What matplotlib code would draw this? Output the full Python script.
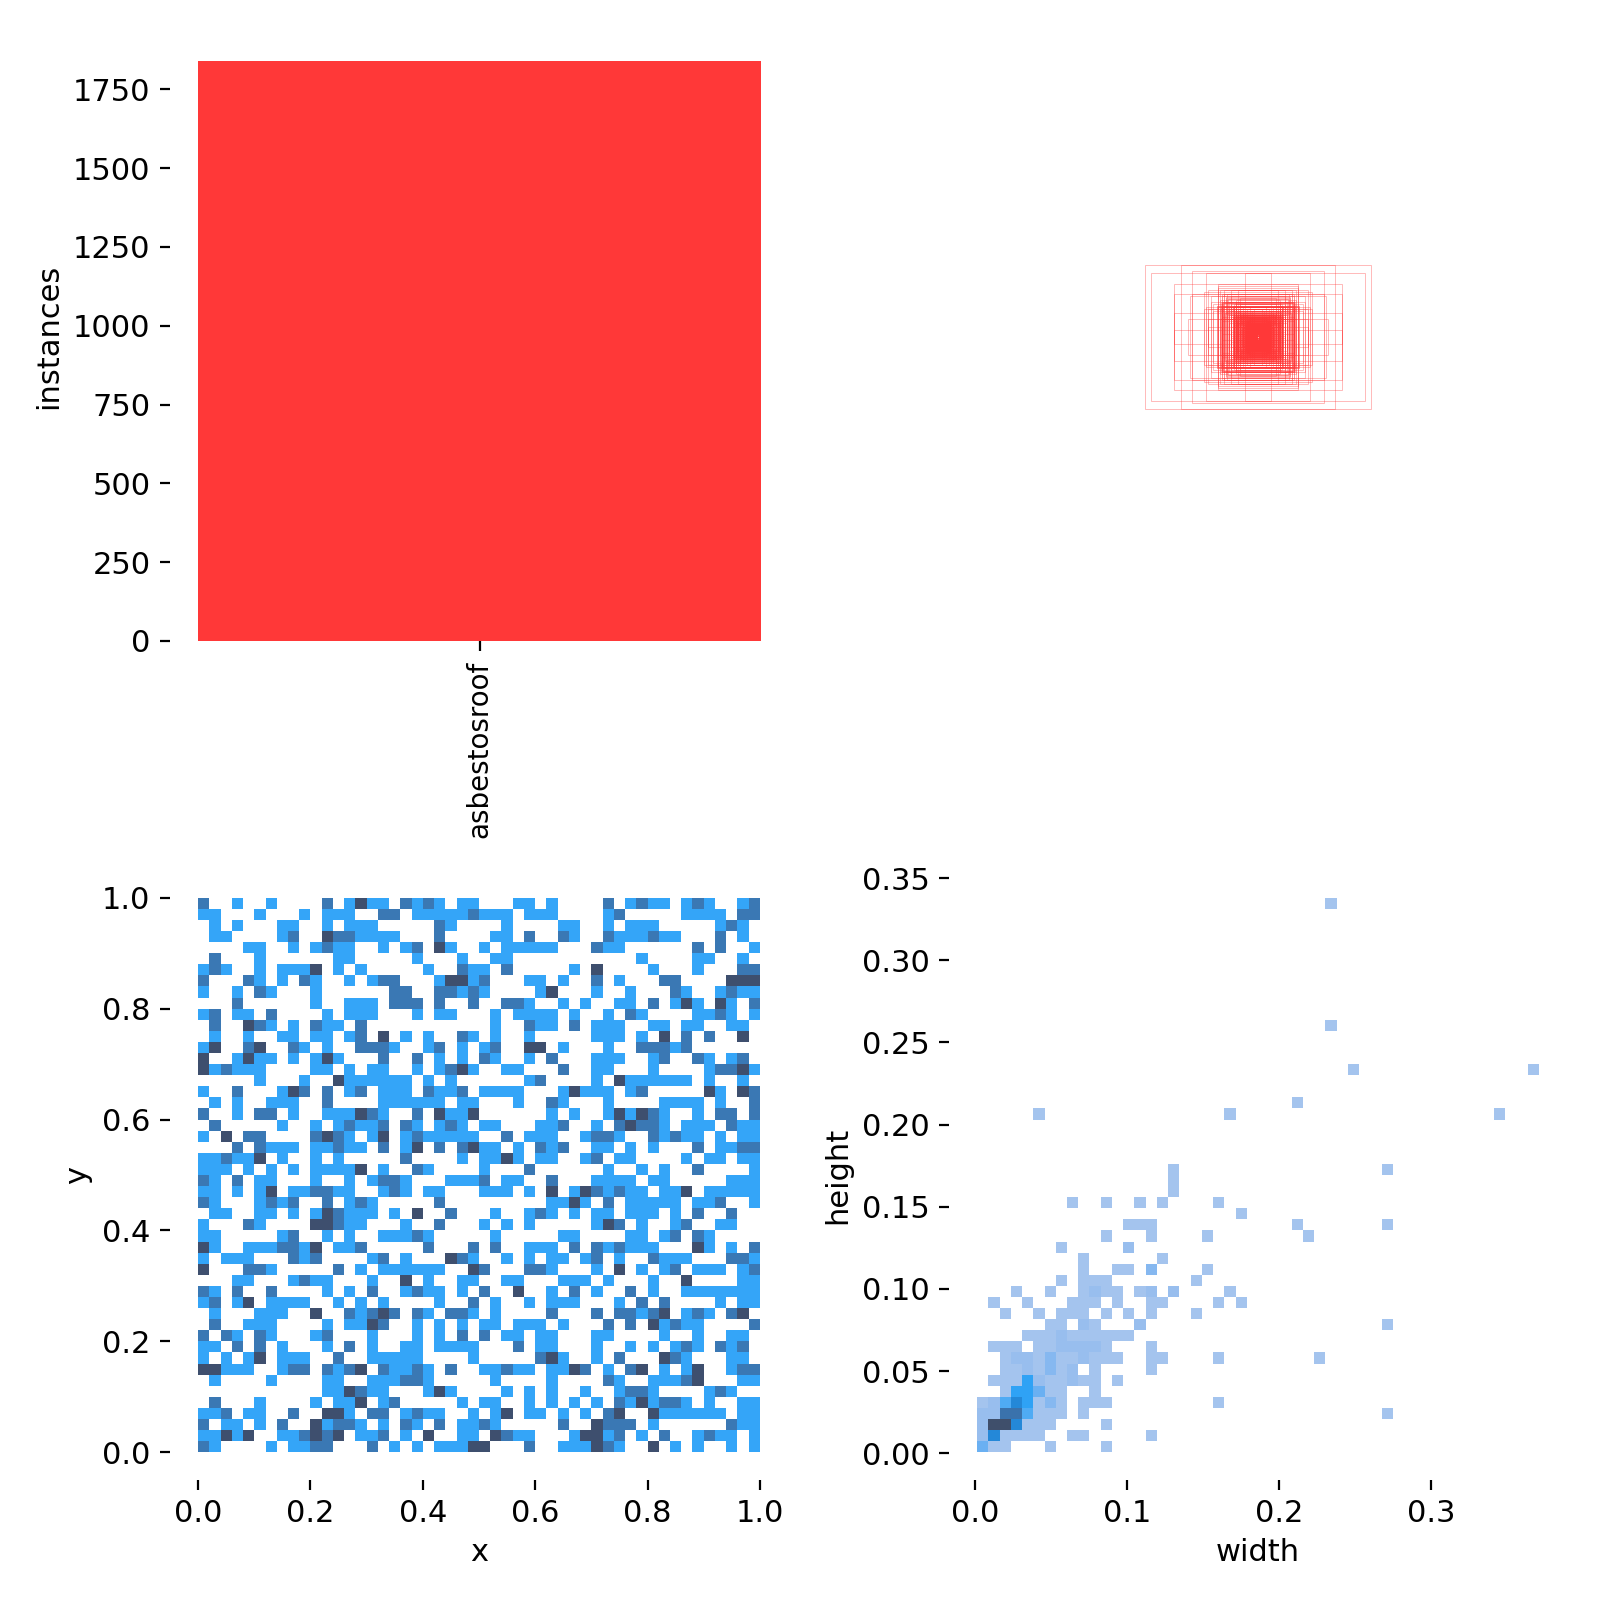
"""Dataset label overview: class counts, box shapes, box centres and box sizes."""

import numpy as np
import matplotlib
matplotlib.use('Agg')
import matplotlib.pyplot as plt
from matplotlib.colors import ListedColormap, BoundaryNorm
from matplotlib.patches import Rectangle

plt.rcParams['font.size'] = 11
plt.rcParams['axes.labelpad'] = 3.4


# =============================================================================
# Data
# =============================================================================

class_names = ['asbestosroof']
class_counts = [1840]

# box centres: 50 x 50 bins, top row first, values are bin counts
xy_rows = [
    "2001001000020131102121011" "0001101000020121101210012",
    "1100010001011100220111112" "1110111000012000001111022",
    "0101000110010111000002100" "0010000110010111000001210",
    "0110000120032211110002000" "0110200210021112110002010",
    "0000110010121100101203100" "1011111000211000000202001",
    "0200010000001100000100010" "0110000000000010000110010",
    "1210010111301010000010021" "1020000010300001000100022",
    "2000210102100101220001331" "2000110100201000220000333",
    "1001021000100000022002212" "1000013000100100021001211",
    "0002000000100111022202002" "0022100101001102013103102",
    "1201102000010111000101100" "0101111010010210000112101",
    "0200321010211020000000000" "0100211020111001101100110",
    "0100100110110120301010021" "0100100000111010302020030",
    "1300230021010022210012010" "1200330100010022212000000",
    "3001311010131000200201010" "2100102000111001200210120",
    "3121110000110101100101231" "0011000200110001000012231",
    "0000010001003111111010100" "0000120000103111111010010",
    "1002000132020120111021120" "1111000131110120000031032",
    "0101001110020000111111011" "0001002100010000111101002",
    "2001022010011132100203113" "0000001010013132100102202",
    "0200000100101211202101210" "1100011200102322101110211",
    "1030220000232101301211111" "0020111001221002121101011",
    "0002021110112110201302023" "1101021200110101000201122",
    "1121130100101000002000010" "1131011001201100001011011",
    "1110101010111130100210000" "1000200000010010100200001",
    "2102011000100101221000111" "2011002000111101100000111",
    "1101013011221100121011000" "1110103013212110113011111",
    "2100012120020121000002000" "0000001131020111110112001",
    "0110011010132111010300200" "0100121010110111010200200",
    "1000210000332110001002000" "1010100000132010012001100",
    "1100000120010100111210000" "0100000110000110120210000",
    "3100111221301120000020002" "0200111020212111000310102",
    "1011100021200001201000321" "0010101101201002111000221",
    "3000221000002010111111003" "2000221000103010120111012",
    "0001100012110001003010011" "0011000111010001003000011",
    "2102002000010102001211010" "2003001020100201001111111",
    "1201301111001010100001002" "0100101110001020200001011",
    "0100011100300212320210221" "0100002000202212301210230",
    "0200111000010113200101010" "1101110100020203121100002",
    "2021021000120001000101020" "2011011000110000100100110",
    "1102020100010201001101111" "0002011000100101012102120",
    "1010130111002001111100001" "0000023100102000321000110",
    "3311100122021230211210200" "1121101132010230101300122",
    "0100001000011001112210000" "0100001000021001112300011",
    "0000000000011321100013100" "0010101001001221000012100",
    "0200010000101130120000010" "1100101010102131221010011",
    "1120110020033102201211001" "0130110101023003111111011",
    "2011010200312210102102011" "2100000200322201000000211",
    "1131300112323011201030011" "0321100013312010200121101",
    "2100001011220002010101113" "3000200111321003010100101",
]

# box sizes: {height bin: {width bin: shade level 1-9}}, bottom row first
wh_bins = {
    0: {0: 4, 1: 1, 2: 1, 6: 1, 11: 1},
    1: {0: 2, 1: 7, 2: 1, 3: 1, 4: 1, 5: 1, 8: 1, 9: 1, 15: 1},
    2: {0: 2, 1: 9, 2: 9, 3: 7, 4: 1, 5: 1, 6: 1, 11: 1},
    3: {0: 2, 1: 2, 2: 8, 3: 8, 4: 5, 5: 1, 6: 1, 7: 1, 9: 1, 36: 1},
    4: {0: 1, 1: 2, 2: 5, 3: 7, 4: 6, 5: 1, 6: 3, 7: 1, 9: 1, 10: 1, 11: 1, 21: 1},
    5: {2: 1, 3: 6, 4: 6, 5: 4, 6: 1, 7: 1, 10: 1},
    6: {1: 1, 2: 1, 3: 1, 4: 6, 5: 2, 6: 1, 7: 1, 8: 2, 9: 1, 10: 1, 12: 1},
    7: {2: 1, 3: 1, 4: 2, 5: 1, 6: 3, 7: 1, 8: 2, 10: 1, 15: 1},
    8: {2: 1, 3: 2, 4: 2, 5: 1, 6: 3, 7: 1, 8: 1, 9: 2, 10: 1, 11: 1, 12: 1, 15: 1, 16: 1, 21: 1, 30: 1},
    9: {1: 1, 2: 1, 3: 1, 5: 1, 6: 1, 7: 2, 8: 2, 9: 2, 10: 2, 11: 1, 15: 1},
    10: {4: 1, 5: 1, 6: 1, 7: 2, 8: 1, 9: 1, 10: 1, 11: 1, 12: 1, 13: 1},
    11: {6: 1, 7: 1, 9: 2, 10: 1, 14: 2, 36: 1},
    12: {2: 1, 5: 1, 7: 1, 8: 1, 9: 1, 11: 1, 13: 1, 15: 1, 19: 1},
    13: {1: 1, 4: 1, 8: 1, 9: 1, 10: 1, 12: 1, 15: 1, 16: 1, 21: 1, 23: 1},
    14: {3: 1, 6: 1, 9: 1, 10: 2, 11: 1, 12: 1, 14: 1, 15: 2, 17: 2, 22: 1},
    15: {7: 1, 9: 1, 10: 1, 11: 1, 19: 1},
    16: {9: 1, 12: 1, 13: 1, 15: 3, 20: 1},
    17: {9: 1, 16: 1},
    18: {7: 1, 13: 2},
    19: {11: 1, 15: 1, 20: 1, 29: 1},
    20: {13: 1, 14: 1, 15: 1, 28: 1, 36: 1},
    21: {23: 1},
    22: {8: 1, 11: 1, 14: 1, 16: 1, 21: 1},
    23: {17: 1},
    24: {17: 1},
    25: {17: 1, 36: 1},
    30: {5: 1, 22: 1, 46: 1},
    31: {28: 1},
    34: {33: 1, 49: 1},
    38: {31: 1},
    49: {31: 1},
}

# these two tall bins have no box in the shapes panel
bins_without_box = [(38, 31), (49, 31)]

# bin edges of the width / height histogram
w_min, w_max = 0.0013, 0.371
h_min, h_max = 0.0006, 0.338

# how many boxes are drawn top right for one bin of each shade level
box_repeats = [0, 1, 4, 6, 8, 10, 12, 16, 24, 32]

xy_colors = ['#34A5F8', '#3A78B4', '#3E4F6E']
wh_colors = ['#A4C4EE', '#98BEEE', '#86B8F0', '#6AB0F2', '#4FABF4',
             '#2FA2F5', '#2488D8', '#3A72AC', '#3F4F6B']
bar_color = '#FF3838'


# =============================================================================
# Helpers
# =============================================================================

FIG_PX = 1600


def axes_px(fig, left, top, right, bottom):
    """Add axes from pixel edges, measured from the top left of the picture."""
    ax = fig.add_axes([left / FIG_PX, 1 - bottom / FIG_PX,
                       (right - left) / FIG_PX, (bottom - top) / FIG_PX])
    for spine in ax.spines.values():
        spine.set_visible(False)
    return ax


fig = plt.figure(figsize=(8, 8), dpi=200)

# =============================================================================
# Class counts
# =============================================================================

ax_bar = axes_px(fig, 170, 32, 789, 641)
ax_bar.bar(range(len(class_names)), class_counts, width=0.9, color=bar_color)
ax_bar.set_ylabel('instances')
ax_bar.set_xticks(range(len(class_names)))
ax_bar.set_xticklabels(class_names, rotation=90, fontsize=10)

# =============================================================================
# Box shapes, all centred
# =============================================================================

ax_box = axes_px(fig, 949, 28, 1567, 646)
ax_box.set_xlim(0, 2000)
ax_box.set_ylim(2000, 0)
ax_box.axis('off')

w_edges = np.linspace(w_min, w_max, 51)
h_edges = np.linspace(h_min, h_max, 51)

for row, cells in wh_bins.items():
    for col, level in cells.items():
        if (row, col) in bins_without_box:
            continue
        n = box_repeats[level]
        # spread the boxes of one bin evenly over that bin
        for i in range(n):
            frac = (i + 0.5) / n
            bw = (w_edges[col] + frac * (w_edges[col + 1] - w_edges[col])) * 2000
            bh = (h_edges[row] + frac * (h_edges[row + 1] - h_edges[row])) * 2000
            ax_box.add_patch(Rectangle((1000 - bw / 2, 1000 - bh / 2), bw, bh, fill=False,
                                       edgecolor=bar_color, linewidth=0.3, alpha=0.4))

# =============================================================================
# Box centres
# =============================================================================

ax_xy = axes_px(fig, 170, 870, 788, 1480)
xy_counts = np.array([[int(c) for c in row] for row in xy_rows])[::-1]
edges = np.linspace(0, 1, 51)
ax_xy.pcolormesh(edges, edges, np.ma.masked_equal(xy_counts, 0),
                 cmap=ListedColormap(xy_colors),
                 norm=BoundaryNorm([0.5, 1.5, 2.5, 3.5], 3), antialiased=False)
ax_xy.set_xlim(-0.05, 1.05)
ax_xy.set_ylim(-0.05, 1.05)
ax_xy.set_xticks(np.arange(0, 1.01, 0.2))
ax_xy.set_yticks(np.arange(0, 1.01, 0.2))
ax_xy.set_xlabel('x')
ax_xy.set_ylabel('y')

# =============================================================================
# Box sizes
# =============================================================================

ax_wh = axes_px(fig, 949, 870, 1567, 1480)
wh_levels = np.zeros((50, 50))
for row, cells in wh_bins.items():
    for col, level in cells.items():
        wh_levels[row, col] = level
ax_wh.pcolormesh(w_edges, h_edges, np.ma.masked_equal(wh_levels, 0),
                 cmap=ListedColormap(wh_colors),
                 norm=BoundaryNorm(np.arange(0.5, 10), 9), antialiased=False)
w_margin = (w_max - w_min) * 0.05
h_margin = (h_max - h_min) * 0.05
ax_wh.set_xlim(w_min - w_margin, w_max + w_margin)
ax_wh.set_ylim(h_min - h_margin, h_max + h_margin)
ax_wh.set_xticks([0.0, 0.1, 0.2, 0.3])
ax_wh.set_yticks(np.arange(0, 0.351, 0.05))
ax_wh.set_xlabel('width')
ax_wh.set_ylabel('height')

plt.savefig('out.png', dpi=200)
